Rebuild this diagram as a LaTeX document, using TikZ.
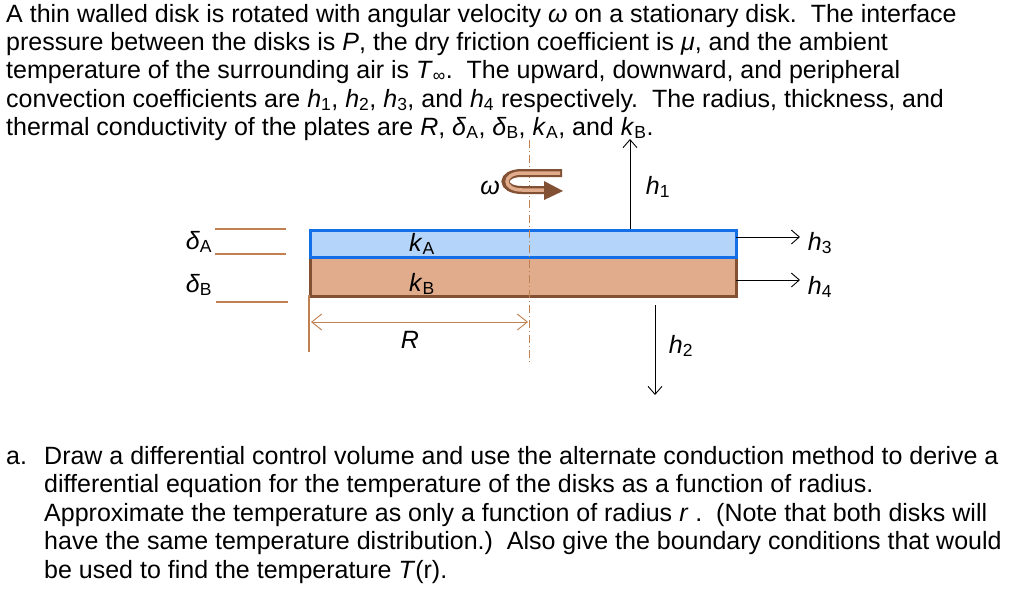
\documentclass[tikz,border=0pt]{standalone}
\usepackage{fontspec}
\setmainfont{Liberation Sans}
\usetikzlibrary{arrows.meta}
\definecolor{brn}{RGB}{192,128,80}
\definecolor{dbrn}{RGB}{130,80,50}
\definecolor{bfill}{RGB}{180,212,250}
\definecolor{bedge}{RGB}{20,110,230}
\definecolor{tfill}{RGB}{225,172,140}
\newcommand{\sbs}[1]{\textsubscript{#1}}
\begin{document}
\begin{tikzpicture}[x=1pt,y=-1pt,
  txt/.style={anchor=base west,inner sep=0pt,font=\fontsize{25}{28}\selectfont},
  lbl/.style={inner sep=0pt,font=\fontsize{25}{28}\selectfont},
  arr/.style={-{Straight Barb[length=8pt,width=14pt]},line width=0.9pt}]
\useasboundingbox (0,0) rectangle (1024,589);
\node[txt] (l1) at (6,22) {A thin walled disk is rotated with angular velocity \textit{ω} on a stationary disk.\ \ The interface};
\node[txt] (l2) at (6,50) {pressure between the disks is \textit{P}, the dry friction coefficient is \textit{μ}, and the ambient};
\node[txt] (l3) at (6,78) {temperature of the surrounding air is \textit{T}\sbs{∞}.\ \ The upward, downward, and peripheral};
\node[txt] (l4) at (6,107) {convection coefficients are \textit{h}\sbs{1}, \textit{h}\sbs{2}, \textit{h}\sbs{3}, and \textit{h}\sbs{4} respectively.\ \ The radius, thickness, and};
\node[txt] (l5) at (6,135) {thermal conductivity of the plates are \textit{R}, \textit{δ}\sbs{A}, \textit{δ}\sbs{B}, \textit{k}\sbs{A}, and \textit{k}\sbs{B}.};
% disks
\node[draw=dbrn,fill=tfill,line width=2.5pt,minimum width=426pt,minimum height=39pt,inner sep=0pt,anchor=north west] (db) at (309,256) {};
\node[draw=bedge,fill=bfill,line width=2.5pt,minimum width=426pt,minimum height=27pt,inner sep=0pt,anchor=north west] (da) at (309,229) {};
% axis
\coordinate (ax1) at (529,140); \coordinate (ax2) at (529,362);
\draw[brn,dash pattern=on 8pt off 3pt on 1pt off 3pt,line width=0.8pt] (ax1) -- (ax2);
% R dimension
\coordinate (t1) at (309,295); \coordinate (t2) at (309,352);
\draw[brn,line width=1.2pt] (t1) -- (t2);
\coordinate (r1) at (311,322); \coordinate (r2) at (528,322);
\draw[brn,line width=0.9pt,{Straight Barb[length=10pt,width=16pt]}-{Straight Barb[length=10pt,width=16pt]}] (r1) -- (r2);
\node[lbl] (R) at (410,340) {\textit{R}};
% delta lines
\coordinate (d1a) at (215,229); \coordinate (d1b) at (286,229);
\coordinate (d2a) at (215,254); \coordinate (d2b) at (286,254);
\coordinate (d3a) at (216,302); \coordinate (d3b) at (288,302);
\draw[brn,line width=1.2pt] (d1a)--(d1b) (d2a)--(d2b) (d3a)--(d3b);
\node[lbl] (dA) at (199,242) {\textit{δ}\sbs{A}};
\node[lbl] (dB) at (199,285) {\textit{δ}\sbs{B}};
\node[lbl] (kA) at (422,244) {\textit{k}\sbs{A}};
\node[lbl] (kB) at (422,284) {\textit{k}\sbs{B}};
% omega
\node[lbl] (w) at (490,188) {\textit{ω}};
\draw[dbrn,line width=8pt] (562,173) -- (522,173) .. controls (500,173) and (500,190) .. (522,190) -- (546,190);
\draw[tfill,line width=3.5pt] (560,173) -- (522,173) .. controls (502,173) and (502,190) .. (522,190) -- (546,190);
\fill[dbrn] (544,181) -- (563,191) -- (544,200) -- cycle;
% h arrows
\coordinate (h1a) at (630,229); \coordinate (h1b) at (630,139);
\draw[arr] (h1a) -- (h1b);
\node[lbl] (h1) at (658,187) {\textit{h}\sbs{1}};
\coordinate (h2a) at (655,305); \coordinate (h2b) at (655,395);
\draw[arr] (h2a) -- (h2b);
\node[lbl] (h2) at (681,346) {\textit{h}\sbs{2}};
\coordinate (h3a) at (736,237); \coordinate (h3b) at (800,237);
\draw[arr] (h3a) -- (h3b);
\node[lbl] (h3) at (820,243) {\textit{h}\sbs{3}};
\coordinate (h4a) at (736,280); \coordinate (h4b) at (800,280);
\draw[arr] (h4a) -- (h4b);
\node[lbl] (h4) at (820,287) {\textit{h}\sbs{4}};
% question
\node[txt] (qa) at (6,464) {a.};
\node[txt] (q1) at (44,464) {Draw a differential control volume and use the alternate conduction method to derive a};
\node[txt] (q2) at (44,492) {differential equation for the temperature of the disks as a function of radius.};
\node[txt] (q3) at (44,521) {Approximate the temperature as only a function of radius \textit{r} .\ \ (Note that both disks will};
\node[txt] (q4) at (44,549) {have the same temperature distribution.)\ \ Also give the boundary conditions that would};
\node[txt] (q5) at (44,578) {be used to find the temperature \textit{T}(r).};
\end{tikzpicture}
\end{document}
